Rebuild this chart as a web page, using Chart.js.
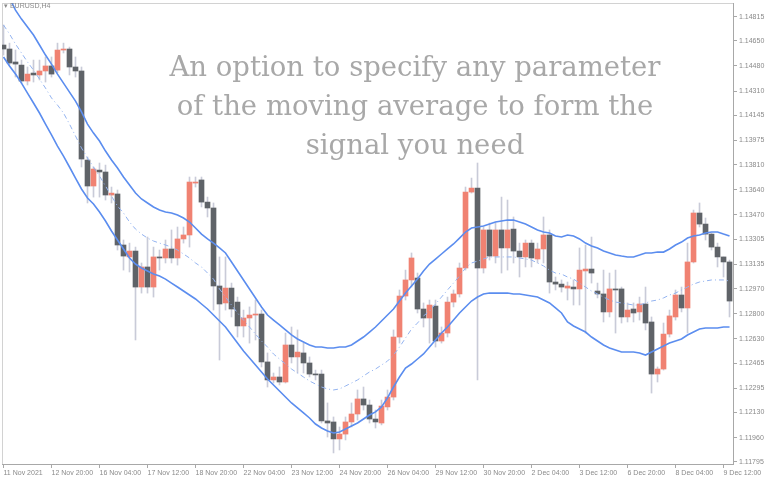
<!DOCTYPE html>
<html lang="en">
<head>
    <meta charset="UTF-8">
    <title>EURUSD,H4</title>
    <script src="https://cdn.jsdelivr.net/npm/chart.js"></script>
    <style>
        body {
            margin: 0;
            background-color: #ffffff;
        }

        .wrap {
            position: relative;
            width: 768px;
            height: 480px;
        }

        canvas {
            position: absolute;
            left: 0;
            top: 0;
        }

        .symbol {
            position: absolute;
            left: 4px;
            top: 2px;
            font: 7px "Liberation Sans", sans-serif;
            color: #8a8a8a;
        }

        .caption {
            position: absolute;
            left: 115px;
            width: 600px;
            top: 47px;
            text-align: center;
            font: 27.5px/39px "DejaVu Serif", serif;
            color: #a8a8a8;
        }
    </style>
</head>
<body>
    <div class="wrap">
        <canvas id="priceChart" width="768" height="480"></canvas>
        <div class="symbol">&#9662; EURUSD,H4</div>
        <div class="caption">An option to specify any parameter<br>of the moving average to form the<br>signal you need</div>
    </div>

    <script>
        // bottom axis labels, one every 8 bars
        const dateLabels = ['11 Nov 2021', '12 Nov 20:00', '16 Nov 04:00', '17 Nov 12:00', '18 Nov 20:00',
            '22 Nov 04:00', '23 Nov 12:00', '24 Nov 20:00', '26 Nov 04:00', '29 Nov 12:00', '30 Nov 20:00',
            '2 Dec 04:00', '3 Dec 12:00', '6 Dec 20:00', '8 Dec 04:00', '9 Dec 12:00'];

        const priceTicks = [1.14815, 1.14650, 1.14480, 1.14310, 1.14145, 1.13975, 1.13810, 1.13640, 1.13470,
            1.13305, 1.13135, 1.12970, 1.12800, 1.12630, 1.12465, 1.12295, 1.12130, 1.11960, 1.11795];

        const opens = [
            1.14622, 1.14595, 1.14507, 1.14486, 1.14378, 1.14432, 1.14419, 1.14446, 1.14480, 1.14452,
            1.14588, 1.14595, 1.14473, 1.14446, 1.13842, 1.13666, 1.13774, 1.13761, 1.13605, 1.13612,
            1.13266, 1.13185, 1.13225, 1.12981, 1.13117, 1.12981, 1.13185, 1.13178, 1.13239, 1.13178,
            1.13307, 1.13334, 1.13686, 1.13707, 1.13557, 1.13517, 1.12988, 1.12873, 1.12974, 1.12879,
            1.12717, 1.12771, 1.12791, 1.12798, 1.12473, 1.12351, 1.12371, 1.12337, 1.12588, 1.12507,
            1.12534, 1.12466, 1.12391, 1.12391, 1.12073, 1.12066, 1.11951, 1.11984, 1.12066, 1.12120,
            1.12222, 1.12181, 1.12086, 1.12059, 1.12168, 1.12235, 1.12642, 1.12920, 1.13029, 1.13042,
            1.12832, 1.12771, 1.12852, 1.12615, 1.12669, 1.12879, 1.12934, 1.13110, 1.13625, 1.13652,
            1.13110, 1.13368, 1.13191, 1.13368, 1.13246, 1.13374, 1.13225, 1.13185, 1.13279, 1.13171,
            1.13239, 1.13334, 1.13015, 1.13001, 1.12974, 1.12981, 1.12968, 1.13090, 1.13103, 1.12954,
            1.12934, 1.12812, 1.12968, 1.12968, 1.12778, 1.12832, 1.12812, 1.12866, 1.12744, 1.12391,
            1.12425, 1.12662, 1.12778, 1.12927, 1.12839, 1.13151, 1.13483, 1.13408, 1.13340, 1.13252,
            1.13185, 1.13151];

        const highs = [
            1.14758, 1.14635, 1.14588, 1.14520, 1.14473, 1.14520, 1.14520, 1.14541, 1.14541, 1.14635,
            1.14635, 1.14608, 1.14541, 1.14473, 1.13863, 1.13795, 1.13822, 1.13808, 1.13659, 1.13639,
            1.13300, 1.13279, 1.13252, 1.13144, 1.13320, 1.13252, 1.13232, 1.13300, 1.13368, 1.13388,
            1.13388, 1.13727, 1.13727, 1.13727, 1.13591, 1.13551, 1.13185, 1.13185, 1.13008, 1.12913,
            1.12825, 1.12846, 1.12893, 1.12825, 1.12534, 1.12398, 1.12439, 1.12669, 1.12710, 1.12690,
            1.12601, 1.12507, 1.12418, 1.12418, 1.12195, 1.12100, 1.12032, 1.12100, 1.12195, 1.12283,
            1.12303, 1.12215, 1.12147, 1.12215, 1.12283, 1.12690, 1.12961, 1.13096, 1.13212, 1.13076,
            1.12873, 1.12893, 1.12893, 1.12710, 1.12913, 1.12961, 1.13144, 1.13659, 1.13720, 1.13822,
            1.13388, 1.13415, 1.13415, 1.13591, 1.13571, 1.13456, 1.13279, 1.13300, 1.13300, 1.13279,
            1.13456, 1.13368, 1.13049, 1.13029, 1.13015, 1.13029, 1.13246, 1.13266, 1.13320, 1.13008,
            1.13096, 1.13076, 1.13096, 1.12981, 1.12873, 1.12873, 1.12913, 1.12981, 1.12778, 1.12439,
            1.12737, 1.12825, 1.12961, 1.12981, 1.13279, 1.13503, 1.13551, 1.13449, 1.13347, 1.13279,
            1.13185, 1.13164];

        const lows = [
            1.14554, 1.14486, 1.14405, 1.14364, 1.14351, 1.14371, 1.14385, 1.14371, 1.14405, 1.14432,
            1.14568, 1.14419, 1.14405, 1.13795, 1.13551, 1.13591, 1.13591, 1.13571, 1.13551, 1.13232,
            1.13096, 1.13083, 1.12622, 1.12940, 1.12940, 1.12913, 1.13096, 1.13144, 1.13144, 1.13130,
            1.13279, 1.13252, 1.13659, 1.13524, 1.13456, 1.12825, 1.12486, 1.12825, 1.12778, 1.12642,
            1.12642, 1.12601, 1.12622, 1.12439, 1.12303, 1.12330, 1.12317, 1.12330, 1.12466, 1.12398,
            1.12398, 1.12371, 1.12351, 1.12059, 1.11964, 1.11856, 1.11876, 1.11944, 1.12032, 1.12079,
            1.12147, 1.12059, 1.12025, 1.12046, 1.12147, 1.12215, 1.12601, 1.12893, 1.12981, 1.12805,
            1.12710, 1.12601, 1.12574, 1.12601, 1.12642, 1.12846, 1.12913, 1.13096, 1.13618, 1.12351,
            1.13076, 1.13164, 1.13144, 1.13076, 1.13096, 1.13144, 1.13049, 1.13117, 1.13117, 1.13144,
            1.13144, 1.12940, 1.12961, 1.12947, 1.12893, 1.12859, 1.12859, 1.12669, 1.13008, 1.12907,
            1.12744, 1.12778, 1.12669, 1.12737, 1.12744, 1.12744, 1.12757, 1.12690, 1.12262, 1.12337,
            1.12418, 1.12642, 1.12757, 1.12812, 1.12669, 1.13144, 1.13388, 1.13300, 1.13232, 1.13117,
            1.13049, 1.12778];

        const closes = [
            1.14595, 1.14500, 1.14493, 1.14378, 1.14425, 1.14419, 1.14446, 1.14480, 1.14425, 1.14588,
            1.14595, 1.14473, 1.14446, 1.13849, 1.13666, 1.13781, 1.13761, 1.13605, 1.13618, 1.13266,
            1.13191, 1.13225, 1.12981, 1.13117, 1.12981, 1.13185, 1.13178, 1.13239, 1.13178, 1.13307,
            1.13334, 1.13693, 1.13693, 1.13557, 1.13517, 1.12988, 1.12866, 1.12974, 1.12832, 1.12717,
            1.12771, 1.12791, 1.12798, 1.12473, 1.12351, 1.12371, 1.12337, 1.12588, 1.12507, 1.12540,
            1.12466, 1.12391, 1.12385, 1.12073, 1.12059, 1.11951, 1.11984, 1.12066, 1.12120, 1.12222,
            1.12181, 1.12086, 1.12066, 1.12174, 1.12235, 1.12642, 1.12920, 1.13029, 1.13178, 1.12832,
            1.12771, 1.12859, 1.12615, 1.12669, 1.12879, 1.12934, 1.13110, 1.13625, 1.13652, 1.13110,
            1.13368, 1.13191, 1.13368, 1.13246, 1.13368, 1.13225, 1.13185, 1.13279, 1.13178, 1.13239,
            1.13334, 1.13015, 1.13001, 1.12981, 1.12988, 1.12968, 1.13096, 1.13103, 1.13076, 1.12934,
            1.12812, 1.12968, 1.12961, 1.12778, 1.12825, 1.12805, 1.12866, 1.12737, 1.12391, 1.12425,
            1.12662, 1.12785, 1.12927, 1.12839, 1.13151, 1.13483, 1.13408, 1.13340, 1.13252, 1.13185,
            1.13151, 1.12886];

        const upperBand = [
            1.14995, 1.14941, 1.14859, 1.14798, 1.14744, 1.14690, 1.14622, 1.14554, 1.14493, 1.14425,
            1.14364, 1.14303, 1.14242, 1.14168, 1.14086, 1.14025, 1.13971, 1.13903, 1.13842, 1.13788,
            1.13727, 1.13673, 1.13618, 1.13578, 1.13551, 1.13524, 1.13503, 1.13490, 1.13483, 1.13469,
            1.13449, 1.13422, 1.13381, 1.13340, 1.13307, 1.13279, 1.13246, 1.13212, 1.13151, 1.13090,
            1.13029, 1.12968, 1.12907, 1.12846, 1.12791, 1.12757, 1.12724, 1.12690, 1.12656, 1.12629,
            1.12608, 1.12588, 1.12574, 1.12574, 1.12568, 1.12568, 1.12574, 1.12574, 1.12588, 1.12615,
            1.12642, 1.12676, 1.12710, 1.12751, 1.12791, 1.12832, 1.12886, 1.12940, 1.12988, 1.13035,
            1.13090, 1.13137, 1.13171, 1.13205, 1.13239, 1.13273, 1.13313, 1.13354, 1.13381, 1.13388,
            1.13395, 1.13408, 1.13422, 1.13429, 1.13435, 1.13435, 1.13422, 1.13408, 1.13388, 1.13368,
            1.13354, 1.13347, 1.13327, 1.13320, 1.13334, 1.13327, 1.13307, 1.13279, 1.13259, 1.13246,
            1.13225, 1.13212, 1.13198, 1.13191, 1.13185, 1.13185, 1.13198, 1.13212, 1.13212, 1.13218,
            1.13218, 1.13239, 1.13266, 1.13286, 1.13313, 1.13327, 1.13334, 1.13347, 1.13354, 1.13354,
            1.13340, 1.13327];

        const middleBand = [
            1.14758, 1.14697, 1.14629, 1.14568, 1.14507, 1.14452, 1.14391, 1.14330, 1.14263, 1.14215,
            1.14161, 1.14086, 1.14005, 1.13924, 1.13856, 1.13795, 1.13734, 1.13666, 1.13598, 1.13530,
            1.13483, 1.13422, 1.13374, 1.13340, 1.13313, 1.13293, 1.13279, 1.13266, 1.13252, 1.13232,
            1.13205, 1.13178, 1.13144, 1.13117, 1.13076, 1.13035, 1.12968, 1.12913, 1.12859, 1.12805,
            1.12757, 1.12710, 1.12662, 1.12615, 1.12574, 1.12527, 1.12493, 1.12459, 1.12425, 1.12398,
            1.12371, 1.12344, 1.12323, 1.12303, 1.12290, 1.12283, 1.12290, 1.12310, 1.12330, 1.12351,
            1.12378, 1.12405, 1.12425, 1.12452, 1.12479, 1.12520, 1.12574, 1.12635, 1.12696, 1.12737,
            1.12785, 1.12818, 1.12866, 1.12913, 1.12961, 1.13008, 1.13056, 1.13110, 1.13144, 1.13157,
            1.13171, 1.13185, 1.13185, 1.13185, 1.13185, 1.13185, 1.13178, 1.13171, 1.13164, 1.13144,
            1.13124, 1.13096, 1.13076, 1.13069, 1.13049, 1.13035, 1.13008, 1.12981, 1.12954, 1.12934,
            1.12913, 1.12893, 1.12879, 1.12873, 1.12866, 1.12859, 1.12859, 1.12873, 1.12886, 1.12893,
            1.12907, 1.12927, 1.12940, 1.12961, 1.12981, 1.13001, 1.13015, 1.13022, 1.13029, 1.13029,
            1.13029, 1.13022];

        const lowerBand = [
            1.14541, 1.14480, 1.14425, 1.14364, 1.14296, 1.14229, 1.14161, 1.14086, 1.14012, 1.13937,
            1.13869, 1.13795, 1.13720, 1.13646, 1.13585, 1.13544, 1.13490, 1.13429, 1.13361, 1.13300,
            1.13239, 1.13178, 1.13137, 1.13110, 1.13090, 1.13069, 1.13056, 1.13035, 1.13008, 1.12981,
            1.12954, 1.12927, 1.12900, 1.12866, 1.12832, 1.12791, 1.12751, 1.12710, 1.12656, 1.12601,
            1.12547, 1.12500, 1.12452, 1.12405, 1.12357, 1.12317, 1.12276, 1.12235, 1.12195, 1.12161,
            1.12127, 1.12093, 1.12052, 1.12025, 1.12005, 1.11991, 1.11998, 1.12018, 1.12039, 1.12059,
            1.12086, 1.12113, 1.12134, 1.12168, 1.12229, 1.12303, 1.12371, 1.12432, 1.12459, 1.12493,
            1.12527, 1.12574, 1.12622, 1.12669, 1.12710, 1.12757, 1.12805, 1.12846, 1.12886, 1.12913,
            1.12934, 1.12940, 1.12940, 1.12940, 1.12940, 1.12934, 1.12934, 1.12927, 1.12920, 1.12913,
            1.12893, 1.12873, 1.12839, 1.12805, 1.12744, 1.12717, 1.12696, 1.12676, 1.12642, 1.12615,
            1.12588, 1.12568, 1.12554, 1.12540, 1.12540, 1.12540, 1.12534, 1.12520, 1.12540, 1.12561,
            1.12581, 1.12601, 1.12615, 1.12629, 1.12656, 1.12676, 1.12696, 1.12703, 1.12703, 1.12703,
            1.12710, 1.12710];

        const bullColor = '#f08272';
        const bearColor = '#5f6368';
        const wickColor = '#c9cbd8';
        const bandColor = '#5b8def';
        const axisFont = { family: 'Liberation Sans', size: 7 };

        const barIndex = opens.map((_, i) => i);
        const labelIndex = dateLabels.map((_, k) => k * 8);

        const framePlugin = {
            id: 'frame',
            beforeDraw(chart) {
                const { ctx, chartArea: a } = chart;
                ctx.save();
                ctx.strokeStyle = '#d2d2d2';
                ctx.lineWidth = 1;
                ctx.strokeRect(a.left + 0.5, a.top + 0.5, a.right - a.left, a.bottom - a.top);
                ctx.restore();
            }
        };

        const ctx = document.getElementById('priceChart').getContext('2d');

        new Chart(ctx, {
            type: 'bar',
            data: {
                labels: barIndex,
                datasets: [
                    {
                        type: 'line',
                        label: 'Upper',
                        data: upperBand,
                        borderColor: bandColor,
                        borderWidth: 1.6,
                        pointRadius: 0,
                        tension: 0,
                        order: 0
                    },
                    {
                        type: 'line',
                        label: 'MA',
                        data: middleBand,
                        borderColor: '#93b3f0',
                        borderWidth: 1,
                        borderDash: [5, 3, 1, 3],
                        pointRadius: 0,
                        tension: 0,
                        order: 0
                    },
                    {
                        type: 'line',
                        label: 'Lower',
                        data: lowerBand,
                        borderColor: bandColor,
                        borderWidth: 1.6,
                        pointRadius: 0,
                        tension: 0,
                        order: 0
                    },
                    {
                        label: 'Body',
                        data: opens.map((o, i) => [o, closes[i]]),
                        backgroundColor: opens.map((o, i) => closes[i] >= o ? bullColor : bearColor),
                        barThickness: 5,
                        minBarLength: 1,
                        grouped: false,
                        order: 1
                    },
                    {
                        label: 'Wick',
                        data: lows.map((l, i) => [l, highs[i]]),
                        backgroundColor: wickColor,
                        barThickness: 1,
                        grouped: false,
                        order: 2
                    }
                ]
            },
            options: {
                responsive: false,
                animation: false,
                layout: { padding: { left: 2, top: 3, right: 0, bottom: 0 } },
                plugins: {
                    legend: { display: false },
                    tooltip: { enabled: false }
                },
                scales: {
                    x: {
                        type: 'linear',
                        offset: false,
                        min: -0.25,
                        max: 121.58,
                        afterBuildTicks: (s) => { s.ticks = labelIndex.map(v => ({ value: v })); },
                        afterFit: (s) => { s.height = 16; s.paddingLeft = 0; s.paddingRight = 0; },
                        ticks: {
                            autoSkip: false,
                            maxRotation: 0,
                            align: 'start',
                            padding: 1,
                            color: '#8a8a8a',
                            font: axisFont,
                            callback: (v) => dateLabels[v / 8]
                        },
                        grid: { offset: false, drawOnChartArea: false, tickLength: 4, color: '#a8a8a8' },
                        border: { color: '#a8a8a8' }
                    },
                    y: {
                        type: 'linear',
                        position: 'right',
                        min: 1.11781,
                        max: 1.14907,
                        afterBuildTicks: (s) => { s.ticks = priceTicks.map(v => ({ value: v })); },
                        afterFit: (s) => { s.width = 35; s.paddingTop = 0; s.paddingBottom = 0; },
                        ticks: {
                            padding: 2,
                            color: '#8a8a8a',
                            font: axisFont,
                            callback: (v) => v.toFixed(5)
                        },
                        grid: { drawOnChartArea: false, tickLength: 4, color: '#a8a8a8' },
                        border: { color: '#a8a8a8' }
                    }
                }
            },
            plugins: [framePlugin]
        });
    </script>
</body>
</html>
